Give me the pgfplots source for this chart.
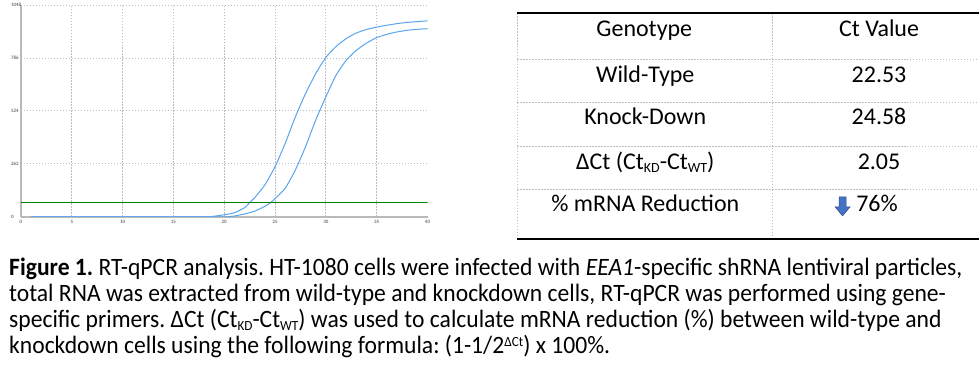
\documentclass[border=0pt]{standalone}
\usepackage{fontspec}
\setmainfont{Carlito}
\newfontfamily\capfont[FakeStretch=0.945]{Carlito}
\usepackage{pgfplots}
\pgfplotsset{compat=1.18}
\definecolor{qblue}{RGB}{90,165,240}
\definecolor{qgreen}{RGB}{0,128,0}
\definecolor{arrowblue}{RGB}{68,114,196}
\definecolor{arrowedge}{RGB}{47,82,143}
\definecolor{gridgray}{RGB}{190,190,190}
\newcommand{\sbs}[1]{\raisebox{-2.5pt}{\fontsize{14}{14}\selectfont #1}}
\newcommand{\sps}[1]{\raisebox{7pt}{\fontsize{14}{14}\selectfont #1}}
\frenchspacing
\begin{document}
\begin{tikzpicture}[x=1pt,y=1pt]
\fill[white] (0,0) rectangle (980,368);
\begin{axis}[at={(21pt,151pt)}, anchor=south west, scale only axis,
  width=407pt, height=212pt,
  xmin=0, xmax=40, ymin=0, ymax=1048,
  xtick={0,5,...,35}, extra x ticks={40}, extra x tick style={grid=none},
  ytick={0,262,524,786,1048},
  grid=major, grid style={dash pattern=on 1.5pt off 1.5pt, gridgray, line width=0.9pt},
  axis lines*=left, axis line style={gray!55, line width=1.6pt},
  major tick length=0pt,
  tick label style={font=\fontsize{5}{6}\selectfont, text=black!75},
  yticklabel style={anchor=west, xshift=-13.5pt},
  /pgf/number format/assume math mode=true,
  /pgf/number format/1000 sep={},
  ]
\addplot[qblue, line width=1pt, smooth, tension=0.3] coordinates {
(1,0) (5,0) (10,0) (15,0) (18,0) (18.5,1) (19,3) (20,10) (21,20) (22,45) (22.5,70)
(23,95) (24,158) (25,248) (26,364) (27,495) (28,610) (29,709) (30,789) (31,843)
(32,882) (33,910) (34,927) (35,939) (36,948) (37,956) (38,962) (39,966) (40,970)};
\addplot[qblue, line width=1pt, smooth, tension=0.3] coordinates {
(1,0) (5,0) (10,0) (15,0) (20,0) (20.5,1) (21,4) (22,14) (23,28) (24,52) (24.6,72)
(25,90) (26,141) (27,232) (28,347) (29,479) (30,594) (31,701) (32,775) (33,824)
(34,860) (35,887) (36,903) (37,915) (38,923) (39,928) (40,931)};
\addplot[qgreen, line width=1.3pt] coordinates {(0,72) (40,72)};
\end{axis}
% table
\draw[gridgray, dash pattern=on 1.5pt off 1.5pt, line width=0.9pt] (518,309) -- (980,309)
  (518,265) -- (980,265) (518,221) -- (980,221) (518,178) -- (980,178)
  (773,355) -- (773,129) (518,355) -- (518,129);
\draw[line width=2.2pt] (518,355) -- (980,355);
\draw[line width=2.2pt] (518,129) -- (980,129);
\begin{scope}[every node/.style={anchor=base, inner sep=0pt, font=\fontsize{24}{28}\selectfont}]
\node at (645,332) {Genotype};
\node at (880,332) {Ct Value};
\node at (646,285) {Wild-Type};
\node at (880,285) {22.53};
\node at (646,243) {Knock-Down};
\node at (880,243) {24.58};
\node at (646,198) {ΔCt (Ct\sbs{KD}-Ct\sbs{WT})};
\node at (880,198) {2.05};
\node at (646,156) {\% mRNA Reduction};
\node[anchor=base west] at (857,156) {76\%};
\end{scope}
\filldraw[fill=arrowblue, draw=arrowedge, line width=0.6pt]
  (840,171) -- (847,171) -- (847,161) -- (851,161) -- (843.5,152) -- (836,161) -- (840,161) -- cycle;
% caption
\begin{scope}[every node/.style={anchor=base west, inner sep=0pt, font=\capfont\fontsize{25}{28}\selectfont}]
\node at (9,92) {\textbf{Figure 1.} RT-qPCR analysis. HT-1080 cells were infected with \textit{EEA1}-specific shRNA lentiviral particles,};
\node at (9,66) {total RNA was extracted from wild-type and knockdown cells, RT-qPCR was performed using gene-};
\node at (9,40) {specific primers. ΔCt (Ct\sbs{KD}-Ct\sbs{WT}) was used to calculate mRNA reduction (\%) between wild-type and};
\node at (9,14) {knockdown cells using the following formula: (1-1/2\sps{ΔCt}) x 100\%.};
\end{scope}
\end{tikzpicture}
\end{document}
